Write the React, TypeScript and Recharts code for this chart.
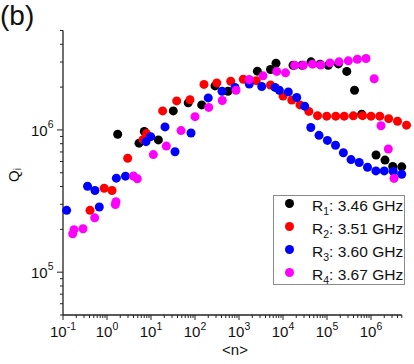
import React from 'react';
import { ScatterChart, Scatter, XAxis, YAxis, Legend, ReferenceLine, Customized } from 'recharts';

// <n> values and Q_i values
const r1N = [1.75, 5.34, 7.04, 14.7, 32.1, 70, 142, 285, 562, 2610, 5200, 6930, 16900, 27000, 43300, 69300, 107000, 181000, 281000, 422000, 615000, 1.3e6, 2.08e6, 3.11e6, 4.99e6];
const r1Q = [9.33e5, 8.07e5, 9.76e5, 8.51e5, 1.36e6, 1.55e6, 1.5e6, 2.04e6, 1.87e6, 2.59e6, 2.66e6, 2.94e6, 2.85e6, 2.85e6, 3.01e6, 2.9e6, 2.85e6, 2.91e6, 2.58e6, 1.9e6, 1.29e6, 6.67e5, 6.14e5, 5.53e5, 5.5e5];

const r2N = [0.411, 0.863, 1.3, 2.95, 6.58, 7.9, 18.4, 38.4, 76.9, 160, 313, 648, 1250, 2470, 5200, 10000, 15800, 24300, 38600, 60800, 98400, 158000, 246000, 396000, 641000, 1.0e6, 1.58e6, 2.52e6, 4.0e6, 6.41e6];
const r2Q = [2.72e5, 3.89e5, 3.75e5, 6.32e5, 8.54e5, 9.42e5, 1.36e6, 1.6e6, 1.63e6, 2.09e6, 2.14e6, 2.2e6, 2.27e6, 2.22e6, 2.07e6, 1.73e6, 1.62e6, 1.5e6, 1.35e6, 1.26e6, 1.25e6, 1.25e6, 1.25e6, 1.256e6, 1.26e6, 1.25e6, 1.25e6, 1.2e6, 1.15e6, 1.08e6];

const r3N = [0.121, 0.361, 0.533, 0.668, 1.63, 2.63, 7.69, 9.84, 20.8, 35.1, 81.1, 200, 411, 811, 1710, 3280, 6580, 8240, 13200, 20500, 31100, 42800, 65800, 102000, 156000, 235000, 351000, 539000, 832000, 1.29e6, 2.0e6, 3.21e6, 4.99e6];
const r3Q = [2.72e5, 4.02e5, 3.75e5, 2.87e5, 4.58e5, 4.73e5, 8.27e5, 8.97e5, 1.05e6, 7.02e5, 9.52e5, 1.68e6, 1.87e6, 1.99e6, 2.1e6, 2.02e6, 1.99e6, 1.9e6, 1.85e6, 1.69e6, 1.47e6, 1.04e6, 9.16e5, 8.44e5, 7.81e5, 6.91e5, 6.19e5, 5.9e5, 5.47e5, 5.15e5, 5.15e5, 5.1e5, 4.88e5];

const r4N = [0.166, 0.178, 0.285, 0.525, 1.55, 1.6, 4.0, 4.88, 11.3, 22.3, 48.1, 100, 205, 417, 855, 1710, 3510, 7190, 11400, 18400, 28900, 46800, 71900, 117000, 187000, 305000, 489000, 769000, 1.18e6, 1.69e6, 2.47e6, 3.33e6];
const r4Q = [1.86e5, 1.99e5, 2.02e5, 2.41e5, 2.99e5, 3.13e5, 4.74e5, 4.54e5, 6.71e5, 7.7e5, 9.89e5, 1.24e6, 1.44e6, 1.61e6, 1.9e6, 2.26e6, 2.4e6, 2.58e6, 2.52e6, 2.85e6, 2.85e6, 2.9e6, 2.86e6, 2.96e6, 3.01e6, 3.06e6, 3.14e6, 3.18e6, 2.29e6, 1.07e6, 7.34e5, 4.56e5];

const seriesNames = ['R1', 'R2', 'R3', 'R4'];
const seriesFreqs = ['3.46 GHz', '3.51 GHz', '3.60 GHz', '3.67 GHz'];
const seriesColors = ['#000000', '#ff0000', '#0000ff', '#ff00ff'];

const xMajorTicks = [0.1, 1, 10, 100, 1000, 1e4, 1e5, 1e6];
const xMax = 5e6;
const yMin = 5e4;
const yMax = 5e6;

const FONT = 'Arial, "Liberation Sans", sans-serif';

const build = (n: number[], q: number[]) => n.map((v, i) => ({ n: v, q: q[i] }));
const allData = [build(r1N, r1Q), build(r2N, r2Q), build(r3N, r3Q), build(r4N, r4Q)];

const xTicks: number[] = [];
xMajorTicks.forEach((d) => {
  for (let m = 1; m <= 9; m++) {
    const v = m * d;
    if (v <= xMax * 1.0001) xTicks.push(v);
  }
});
const yTicks: number[] = [];
[1e4, 1e5, 1e6].forEach((d) => {
  for (let m = 1; m <= 9; m++) {
    const v = m * d;
    if (v >= yMin * 0.9999 && v <= yMax * 1.0001) yTicks.push(v);
  }
});

const isMajor = (v: number) => {
  const e = Math.log10(v);
  return Math.abs(e - Math.round(e)) < 1e-6;
};

const XTick = (props: any) => {
  const { x, y, payload } = props;
  const v = payload.value;
  const major = isMajor(v);
  const e = Math.round(Math.log10(v));
  return (
    <g>
      <line x1={x} x2={x} y1={y} y2={y + (major ? 5 : 3)} stroke="#222" strokeWidth={1} />
      {major && (
        <text x={x} y={y + 22} textAnchor="middle" fontSize={15} fontFamily={FONT} fill="#111">
          10<tspan dy={-7} fontSize={10.5}>{e}</tspan>
        </text>
      )}
    </g>
  );
};

const YTick = (props: any) => {
  const { x, y, payload } = props;
  const v = payload.value;
  const major = isMajor(v);
  const e = Math.round(Math.log10(v));
  return (
    <g>
      <line x1={x - (major ? 6 : 3)} x2={x} y1={y} y2={y} stroke="#222" strokeWidth={1} />
      {major && (
        <text x={x - 9.5} y={y + 6} textAnchor="end" fontSize={15} fontFamily={FONT} fill="#111">
          10<tspan dy={-8} fontSize={10.5}>{e}</tspan>
        </text>
      )}
    </g>
  );
};

const renderLegend = () => (
  <div
    style={{
      width: 132,
      height: 90,
      border: '1px solid #8a8a8a',
      boxSizing: 'border-box',
      background: '#fff',
      position: 'relative',
      fontFamily: FONT,
      fontSize: 15.5,
      color: '#111',
    }}
  >
    {seriesNames.map((name, i) => (
      <div key={name}>
        <div
          style={{
            position: 'absolute',
            left: 15.6 - 4.5,
            top: 7.3 + i * 23.1 - 4.5,
            width: 9,
            height: 9,
            borderRadius: '50%',
            background: seriesColors[i],
          }}
        />
        <div
          style={{
            position: 'absolute',
            left: 38,
            top: -2.2 + i * 23.1,
            lineHeight: '23px',
            whiteSpace: 'nowrap',
          }}
        >
          R<sub style={{ fontSize: 10.5, lineHeight: 0, verticalAlign: -4 }}>{i + 1}</sub>: {seriesFreqs[i]}
        </div>
      </div>
    ))}
  </div>
);

const Titles = () => (
  <g fontFamily={FONT} fill="#111">
    <text x={0} y={25} fontSize={28}>(b)</text>
    <text x={235} y={355} fontSize={15} textAnchor="middle">&lt;n&gt;</text>
    <text transform="translate(19,175) rotate(-90)" textAnchor="middle" fontSize={15}>
      Q<tspan fontSize={10} dy={2}>i</tspan>
    </text>
  </g>
);

export default function App() {
  return (
    <div style={{ position: 'absolute', left: 0, top: 0, width: 414, height: 364, background: '#fff' }}>
      <ScatterChart width={414} height={364} margin={{ top: 30.5, right: 0, bottom: 19, left: 8 }}>
        <XAxis
          type="number"
          dataKey="n"
          scale="log"
          domain={[0.1, 9.48e6]}
          ticks={xTicks}
          interval={0}
          tick={<XTick />}
          tickLine={false}
          tickSize={0}
          tickMargin={0}
          axisLine={false}
          height={30}
        />
        <YAxis
          type="number"
          dataKey="q"
          scale="log"
          domain={[yMin, yMax]}
          ticks={yTicks}
          interval={0}
          tick={<YTick />}
          tickLine={false}
          tickSize={0}
          tickMargin={0}
          axisLine={{ stroke: '#222', strokeWidth: 1.3 }}
          width={55}
        />
        <ReferenceLine
          segment={[{ x: 0.1, y: yMin }, { x: xMax, y: yMin }]}
          stroke="#222"
          strokeWidth={1.3}
        />
        {allData.map((d, i) => (
          <Scatter
            key={seriesNames[i]}
            name={seriesNames[i]}
            data={d}
            fill={seriesColors[i]}
            isAnimationActive={false}
            shape={(p: any) => <circle cx={p.cx} cy={p.cy} r={4.5} fill={seriesColors[i]} />}
          />
        ))}
        <Legend
          layout="vertical"
          align="center"
          verticalAlign="middle"
          content={renderLegend}
          wrapperStyle={{ position: 'absolute', left: 273, top: 195, width: 132, height: 90 }}
        />
        <Customized component={Titles} />
      </ScatterChart>
    </div>
  );
}
